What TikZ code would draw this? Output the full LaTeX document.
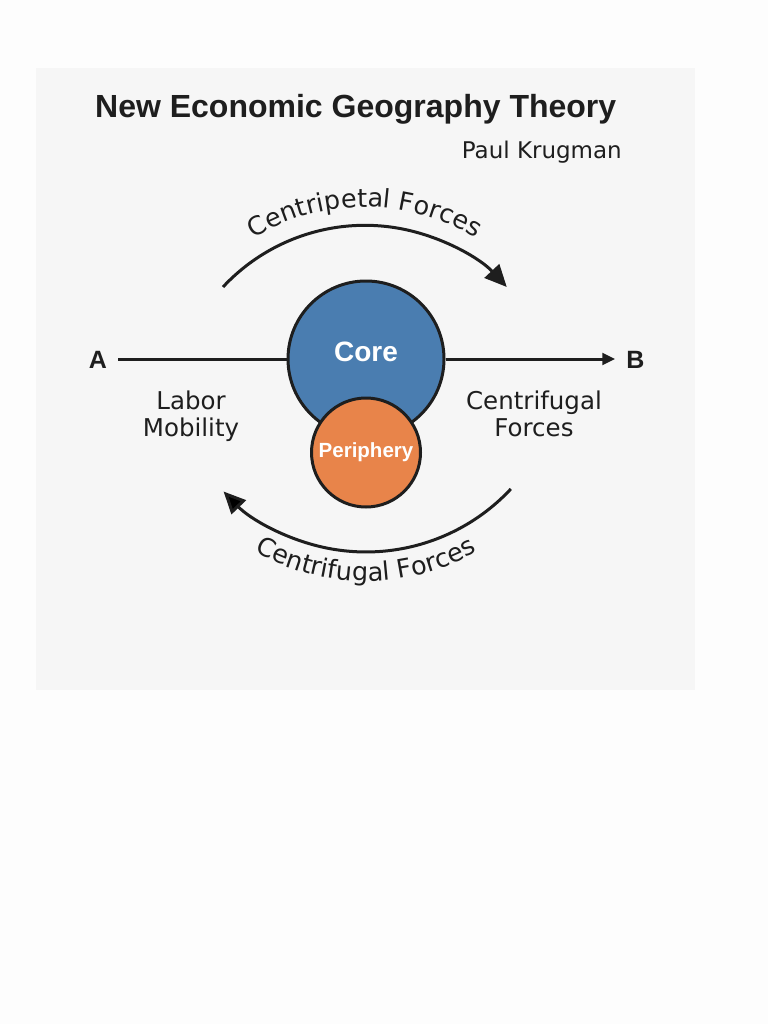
\documentclass[tikz,border=0pt]{standalone}
\usepackage{fontspec}
\setmainfont{DejaVu Sans}
\newfontfamily\headfont{Liberation Sans}
\usepackage{xcolor}
\usepackage{tikz}
\usetikzlibrary{
    arrows.meta,
    positioning,
    decorations.text
}
\definecolor{negblue}{HTML}{4A7DB0}
\definecolor{negorange}{HTML}{E8844A}
\definecolor{negink}{HTML}{1E1E1E}
\definecolor{negpanel}{HTML}{F6F6F6}
\definecolor{negpage}{HTML}{FDFDFD}
\tikzset{
    % Filled circle (core, periphery)
    negcircle/.style={
        circle,
        draw=negink,
        line width=3pt,
        fill=#1,
        text=white,
        font=\headfont\bfseries,
        inner sep=0pt
    },
    negcircle/.default=negblue,
    % Plain side label
    neglabel/.style={
        text=negink,
        font=\fontsize{24.5}{27}\selectfont,
        align=center,
        inner sep=0pt
    },
    % End point letter
    negend/.style={
        text=negink,
        font=\headfont\bfseries\fontsize{25}{25}\selectfont,
        inner sep=11pt
    },
    % Line style
    negline/.style={
        line width=3pt,
        draw=negink
    },
    % Arrow style
    negarrow/.style={
        -{Triangle[length=#1, width=0.9*#1]}
    },
    negarrow/.default=13pt,
    % Curved text
    negarctext/.style={
        decorate,
        decoration={
            text along path,
            text align=center,
            text color=negink,
            text={|\fontsize{25.5}{25.5}\selectfont|#1}
        }
    }
}

\begin{document}
\begin{tikzpicture}[x=1pt, y=1pt]

    % Page and panel
    \fill[negpage] (0,0) rectangle (768,-1024);
    \useasboundingbox (0,0) rectangle (768,-1024);
    \fill[negpanel] (36,-68) rectangle (695,-690);

    % Title
    \node[anchor=base west, inner sep=0pt, text=negink,
          font=\headfont\bfseries\fontsize{32}{32}\selectfont] (title) at (95,-118)
        {New Economic Geography Theory};
    \node[anchor=base east, inner sep=0pt, text=negink,
          font=\fontsize{23}{23}\selectfont] (author) at (622,-159) {Paul Krugman};

    % Core and periphery
    \node[negcircle, minimum size=156pt, text depth=14pt] (core) at (366,-359)
        {\fontsize{28}{28}\selectfont Core};
    \node[negcircle=negorange, minimum size=109pt, below=-42pt of core] (periphery)
        {\fontsize{20.5}{20.5}\selectfont Periphery};

    % Axis A -- B
    \node[negend] (a) at (98,-360) {A};
    \node[negend] (b) at (635.5,-360) {B};
    \draw[negline] (a.east |- core) -- (core.west);
    \draw[negline, negarrow] (core.east) -- (b.west |- core);

    % Side labels
    \node[neglabel] (labor) at (191,-416) {Labor\\Mobility};
    \node[neglabel] (centrifugal) at (534,-414) {Centrifugal\\Forces};

    % Upper arc
    \coordinate (cp-start) at (223,-287);
    \draw[negline, negarrow=22pt] (cp-start) arc[start angle=137, end angle=43, radius=194];
    \path[negarctext=Centripetal Forces] (202.6,-282.7) arc[start angle=140, end angle=40, radius=212];

    % Lower arc
    \coordinate (cf-start) at (510.8,-489);
    \draw[negline, negarrow=22pt] (cf-start) arc[start angle=-43, end angle=-136, radius=198];
    \path[negarctext=Centrifugal Forces] (192.1,-499.9) arc[start angle=-140, end angle=-40, radius=227];

\end{tikzpicture}
\end{document}
